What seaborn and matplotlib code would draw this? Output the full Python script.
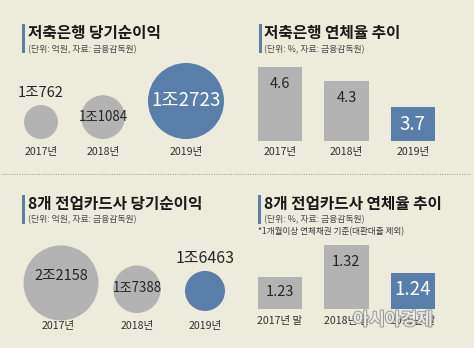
import numpy as np
import pandas as pd
import matplotlib
matplotlib.use("Agg")
import matplotlib.pyplot as plt
import matplotlib.patheffects as pe
from matplotlib.lines import Line2D
import seaborn as sns

# ---------------- data ----------------
sb_income_years = ["2017년", "2018년", "2019년"]
sb_income_values = [10762, 11084, 12723]          # 억원
sb_income_labels = ["1조762", "1조1084", "1조2723"]

sb_delinq_years = ["2017년", "2018년", "2019년"]
sb_delinq_values = [4.6, 4.3, 3.7]                # %

card_income_years = ["2017년", "2018년", "2019년"]
card_income_values = [22158, 17388, 16463]        # 억원
card_income_labels = ["2조2158", "1조7388", "1조6463"]

card_delinq_years = ["2017년 말", "2018년 말", "2019년 말"]
card_delinq_values = [1.23, 1.32, 1.24]           # %

titles = ["저축은행 당기순이익", "저축은행 연체율 추이",
          "8개 전업카드사 당기순이익", "8개 전업카드사 연체율 추이"]
subtitles = ["(단위: 억원, 자료: 금융감독원)", "(단위: %, 자료: 금융감독원)",
             "(단위: 억원, 자료: 금융감독원)", "(단위: %, 자료: 금융감독원)"]
note_text = "*1개월이상 연체채권 기준(대환대출 제외)"
watermark = "아시아경제"

# ---------------- style ----------------
W, H = 474, 348
DPI = 100
BG = "#ecebdc"
GRAY = "#b3b3b3"
BLUE = "#587ea9"
ACCENT = "#5f7d9c"
DARK = "#262626"
FONT = ["Noto Sans CJK KR", "DejaVu Sans"]

sns.set_theme(style="white")
plt.rcParams["font.family"] = FONT

fig = plt.figure(figsize=(W / DPI, H / DPI), dpi=DPI, facecolor=BG)


def px_axes(x0, y0, x1, y1):
    """Axes placed by pixel box (y measured from top)."""
    ax = fig.add_axes([x0 / W, 1 - y1 / H, (x1 - x0) / W, (y1 - y0) / H])
    ax.set_facecolor("none")
    ax.axis("off")
    return ax


def ftext(x, y, s, **kw):
    kw.setdefault("family", FONT)
    fig.text(x / W, 1 - y / H, s, **kw)


def header(x, y, idx):
    fig.add_artist(plt.Rectangle((x / W, 1 - (y + 29) / H), 3.2 / W, 29 / H,
                                 transform=fig.transFigure, color=ACCENT, lw=0))
    ftext(x + 6, y + 9, titles[idx], fontsize=11.3, weight="bold",
          color="#1a1a1a", va="center", ha="left")
    ftext(x + 6, y + 25.5, subtitles[idx], fontsize=6.4, color="#4a4a4a",
          va="center", ha="left")


def to_px_radius(s):
    return np.sqrt(s) * DPI / 72 / 2


def bubble_panel(box, xs, years, values, labels, size_rng, base, k,
                 label_modes, label_sizes, year_y):
    x0, y0, x1, y1 = box
    ax = px_axes(x0, y0, x1, y1)
    ax.set_xlim(x0, x1)
    ax.set_ylim(y1, y0)
    v = np.array(values, float)
    smin, smax = size_rng
    s = smin + (v - v.min()) / (v.max() - v.min()) * (smax - smin)
    r = to_px_radius(s)
    yc = base - k * r
    colors = [GRAY, GRAY, BLUE]
    df = pd.DataFrame({"x": xs, "y": yc, "year": years, "value": values})
    sns.scatterplot(data=df, x="x", y="y", hue="year", size="value",
                    sizes=(smin, smax), palette=colors, legend=False,
                    linewidth=0, ax=ax, zorder=2)
    for i, lab in enumerate(labels):
        mode, dy = label_modes[i]
        col = "white" if i == 2 and mode == "in" else DARK
        if mode == "in":
            ty = yc[i] + dy
        else:
            ty = yc[i] - r[i] - dy
        ax.text(xs[i], ty, lab, ha="center", va="center",
                fontsize=label_sizes[i], color=col, family=FONT, zorder=3)
        ax.text(xs[i] - (3 if i == 0 and k < 1 else 0), year_y, years[i],
                ha="center", va="center", fontsize=7.6, color="#303030",
                family=FONT)


def bar_panel(box, years, values, ylim, label_off_pt, label_sizes, year_y):
    x0, y0, x1, y1 = box
    ax = px_axes(x0, y0, x1, y1)
    df = pd.DataFrame({"year": years, "value": values})
    sns.barplot(data=df, x="year", y="value", hue="year",
                palette=[GRAY, GRAY, BLUE], legend=False, width=0.67,
                linewidth=0, saturation=1, ax=ax)
    ax.set_xlim(-0.5, 2.5)
    ax.set_ylim(*ylim)
    ax.axis("off")
    for i, v in enumerate(values):
        col = "white" if i == 2 else DARK
        ax.annotate(f"{v:g}", xy=(i, v), xytext=(0, -label_off_pt[i]),
                    textcoords="offset points", ha="center", va="center",
                    fontsize=label_sizes[i], color=col, family=FONT,
                    annotation_clip=False)
        ax.annotate(years[i], xy=(i, 0), xycoords=("data", "figure fraction"),
                    xytext=(i, 1 - year_y / H), textcoords=("data", "figure fraction"),
                    ha="center", va="center", fontsize=7.6, color="#303030",
                    family=FONT, annotation_clip=False)
    return ax


# ---------------- top-left: savings bank net income ----------------
header(22, 24, 0)
bubble_panel((0, 58, 237, 172), [41, 103, 186], sb_income_years,
             sb_income_values, sb_income_labels,
             size_rng=(599, 2994), base=139, k=1.0,
             label_modes=[("above", 12), ("in", 0), ("in", -1)],
             label_sizes=[10.5, 9.6, 13.5], year_y=152)

# ---------------- top-right: savings bank delinquency ----------------
header(258.5, 24, 1)
bar_panel((246.8, 60, 446, 140.7), sb_delinq_years, sb_delinq_values,
          ylim=(2.95, 4.767), label_off_pt=[12.2, 12.2, 12.0],
          label_sizes=[10.5, 10.5, 13.5], year_y=151.7)

# ---------------- divider ----------------
fig.add_artist(Line2D([2 / W, 470 / W], [1 - 173.5 / H, 1 - 173.5 / H],
                      transform=fig.transFigure, color="#9a9a90",
                      lw=0.7, ls=(0, (1, 1.5))))

# ---------------- bottom-left: card companies net income ----------------
header(22, 194.5, 2)
bubble_panel((0, 230, 237, 340), [61, 137, 205], card_income_years,
             card_income_values, card_income_labels,
             size_rng=(829, 2916), base=300.1, k=0.457,
             label_modes=[("in", -7), ("in", -1), ("above", 12)],
             label_sizes=[10.5, 9.6, 11.5], year_y=325.7)

# ---------------- bottom-right: card companies delinquency ----------------
header(257.7, 194.5, 3)
ftext(258.5, 231.3, note_text, fontsize=6.2, color="#3a3a3a",
      va="center", ha="left")
bar_panel((246.8, 240, 446, 309), card_delinq_years, card_delinq_values,
          ylim=(1.1372, 1.3355), label_off_pt=[11.2, 12.2, 11.4],
          label_sizes=[10.5, 10.5, 13.5], year_y=320.7)

# ---------------- watermark ----------------
ftext(393, 320, watermark, fontsize=12.5, color="#f4f4ee", alpha=0.85,
      ha="center", va="center", weight="bold",
      path_effects=[pe.withStroke(linewidth=1.4, foreground="#8c8c8c")])

fig.savefig("out.png", dpi=DPI, facecolor=BG)
